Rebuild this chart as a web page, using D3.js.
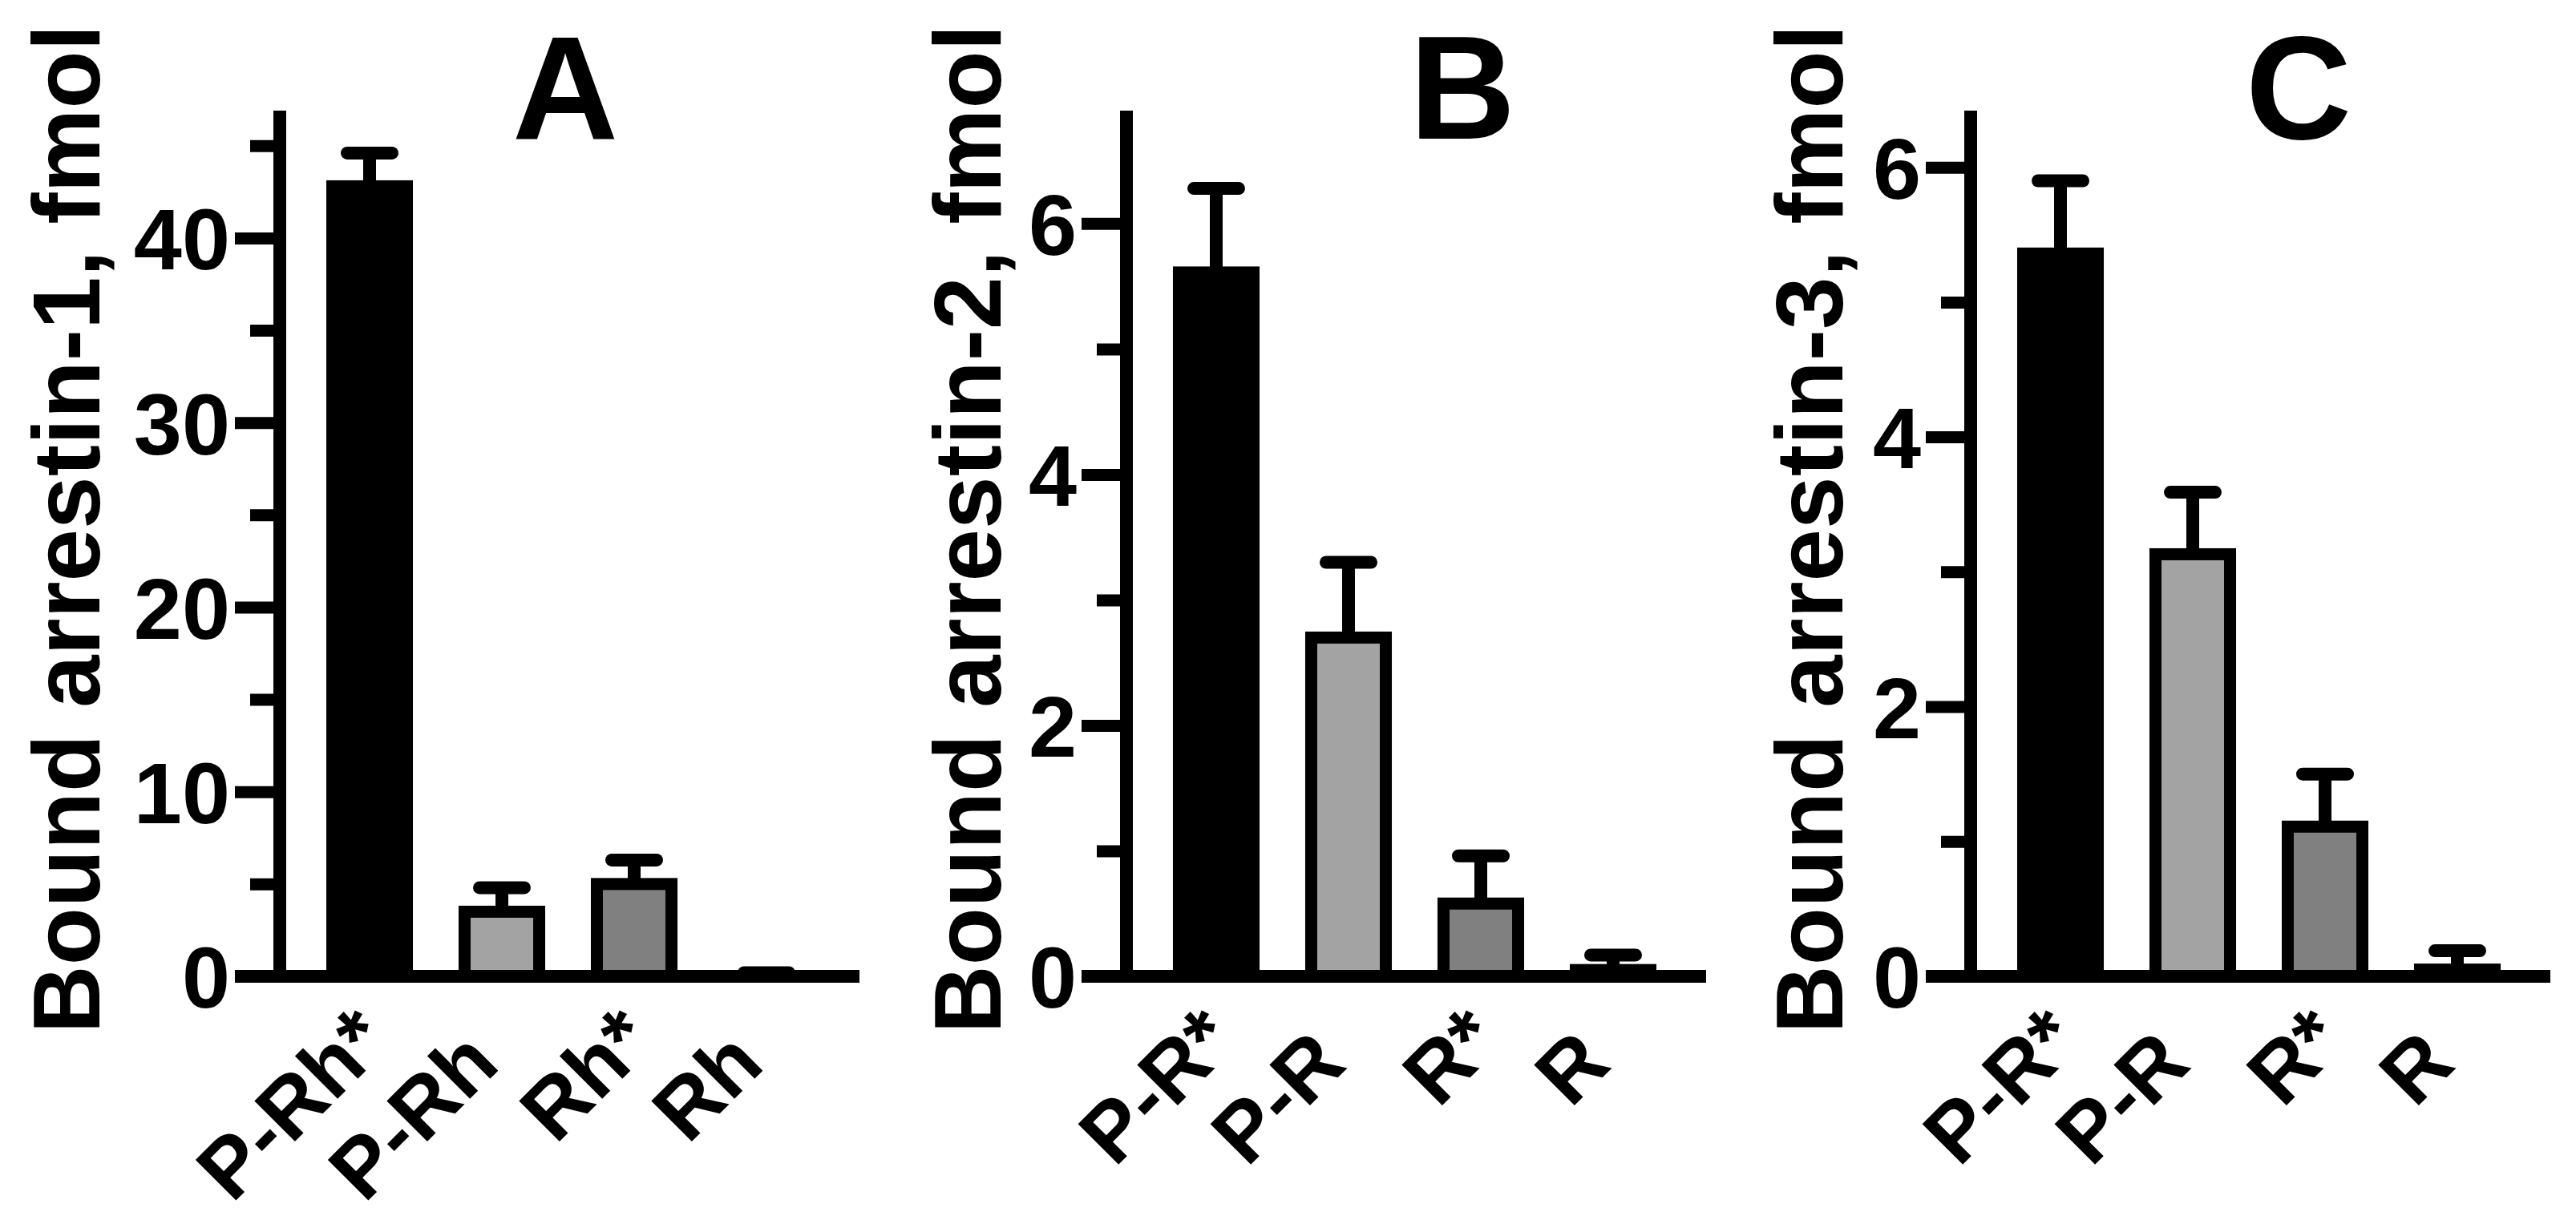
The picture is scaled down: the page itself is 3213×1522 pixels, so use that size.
<!DOCTYPE html>
<html>
<head>
<meta charset="utf-8">
<script src="https://cdn.jsdelivr.net/npm/d3@7"></script>
<style>
  body { margin: 0; background: #fff; }
  text { font-family: "Liberation Sans", Arial, Helvetica, sans-serif; font-weight: bold; }
</style>
</head>
<body>
<div id="chart"></div>
<script>
// panel letters and axis titles
const panelLetters = ["A", "B", "C"];
const yTitles = ["Bound arrestin-1, fmol", "Bound arrestin-2, fmol", "Bound arrestin-3, fmol"];

// categories
const categoriesA = ["P-Rh*", "P-Rh", "Rh*", "Rh"];
const categoriesBC = ["P-R*", "P-R", "R*", "R"];

// bound arrestin (fmol), mean and error
const valuesA = [42.8, 3.5, 5.0, 0];
const errorsA = [1.8, 1.3, 1.3, 0.2];
const valuesB = [5.61, 2.70, 0.58, 0.05];
const errorsB = [0.67, 0.60, 0.38, 0.12];
const valuesC = [5.36, 3.13, 1.11, 0.05];
const errorsC = [0.54, 0.46, 0.39, 0.14];

// y axis ranges and ticks
const yMaxes = [46.9, 6.9, 6.42];
const majorTicksA = [0, 10, 20, 30, 40];
const minorTicksA = [5, 15, 25, 35, 45];
const majorTicksBC = [0, 2, 4, 6];
const minorTicksBC = [1, 3, 5];

const barColors = ["#000000", "#a3a3a3", "#808080", "#ffffff"];

const width = 3213, height = 1522;
const baseY = 1218, topY = 138;
const font = "Liberation Sans, Arial, Helvetica, sans-serif";

// layout of the three panels
const panels = [
  { axisX: 349, titleX: 124, letterX: 705, cats: categoriesA, vals: valuesA, errs: errorsA,
    yMax: yMaxes[0], majors: majorTicksA, minors: minorTicksA },
  { axisX: 1405, titleX: 1248, letterX: 1824, cats: categoriesBC, vals: valuesB, errs: errorsB,
    yMax: yMaxes[1], majors: majorTicksBC, minors: minorTicksBC },
  { axisX: 2458, titleX: 2298, letterX: 2867, cats: categoriesBC, vals: valuesC, errs: errorsC,
    yMax: yMaxes[2], majors: majorTicksBC, minors: minorTicksBC }
];

const svg = d3.select("#chart")
  .append("svg")
  .attr("width", width)
  .attr("height", height);

panels.forEach((p, i) => {
  const g = svg.append("g");

  const y = d3.scaleLinear().domain([0, p.yMax]).range([baseY, topY]);
  const x = d3.scaleBand()
    .domain(p.cats)
    .range([p.axisX + 29.5, p.axisX + 689.5])
    .paddingInner(0.436)
    .paddingOuter(0.218);

  const data = p.cats.map((c, j) => ({ cat: c, value: p.vals[j], err: p.errs[j], color: barColors[j] }));

  // bars
  g.selectAll("rect.bar")
    .data(data)
    .join("rect")
    .attr("class", "bar")
    .attr("x", d => x(d.cat))
    .attr("width", x.bandwidth())
    .attr("y", d => y(d.value))
    .attr("height", d => baseY - y(d.value))
    .attr("fill", d => d.color)
    .attr("stroke", d => d.value > 0 ? "#000" : "none")
    .attr("stroke-width", 15);

  // error bars (upper only)
  const cx = d => x(d.cat) + x.bandwidth() / 2;
  g.selectAll("line.stem")
    .data(data)
    .join("line")
    .attr("class", "stem")
    .attr("x1", cx).attr("x2", cx)
    .attr("y1", d => y(d.value))
    .attr("y2", d => y(d.value + d.err))
    .attr("stroke", "#000")
    .attr("stroke-width", 16);
  g.selectAll("line.cap")
    .data(data)
    .join("line")
    .attr("class", "cap")
    .attr("x1", d => cx(d) - 28).attr("x2", d => cx(d) + 28)
    .attr("y1", d => y(d.value + d.err))
    .attr("y2", d => y(d.value + d.err))
    .attr("stroke", "#000")
    .attr("stroke-width", 16)
    .attr("stroke-linecap", "round");

  // y axis ticks
  g.append("g")
    .attr("transform", `translate(${p.axisX},0)`)
    .call(d3.axisLeft(y).tickValues(p.minors).tickSize(37).tickFormat(""))
    .call(a => a.select(".domain").remove())
    .call(a => a.selectAll("line").attr("stroke", "#000").attr("stroke-width", 15));

  g.append("g")
    .attr("transform", `translate(${p.axisX},0)`)
    .call(d3.axisLeft(y).tickValues(p.majors).tickSize(56).tickPadding(6).tickFormat(d3.format("d")))
    .attr("font-family", font)
    .attr("font-weight", "bold")
    .attr("font-size", 108)
    .call(a => a.select(".domain").remove())
    .call(a => a.selectAll("line").attr("stroke", "#000").attr("stroke-width", 15))
    .call(a => a.selectAll("text").attr("fill", "#000").attr("dy", "0.36em"));

  // axis lines
  g.append("line")
    .attr("x1", p.axisX).attr("x2", p.axisX)
    .attr("y1", topY).attr("y2", baseY + 8)
    .attr("stroke", "#000").attr("stroke-width", 16);
  g.append("line")
    .attr("x1", p.axisX - 56).attr("x2", p.axisX + 723)
    .attr("y1", baseY).attr("y2", baseY)
    .attr("stroke", "#000").attr("stroke-width", 16);

  // category labels, rotated; the asterisk hangs past the anchor
  const labels = g.selectAll("g.xlab")
    .data(data)
    .join("g")
    .attr("class", "xlab")
    .attr("transform", d => `translate(${cx(d)},${baseY + 113}) rotate(-45)`);
  labels.append("text")
    .attr("text-anchor", "end")
    .attr("font-size", 104)
    .text(d => d.cat.replace("*", ""));
  labels.filter(d => d.cat.endsWith("*"))
    .append("text")
    .attr("text-anchor", "start")
    .attr("font-size", 104)
    .text("*");

  // y axis title
  g.append("text")
    .attr("transform", `translate(${p.titleX},660) rotate(-90)`)
    .attr("text-anchor", "middle")
    .attr("font-size", 118)
    .text(yTitles[i]);

  // panel letter
  g.append("text")
    .attr("x", p.letterX)
    .attr("y", 173)
    .attr("text-anchor", "middle")
    .attr("font-size", 183)
    .text(panelLetters[i]);
});
</script>
</body>
</html>
